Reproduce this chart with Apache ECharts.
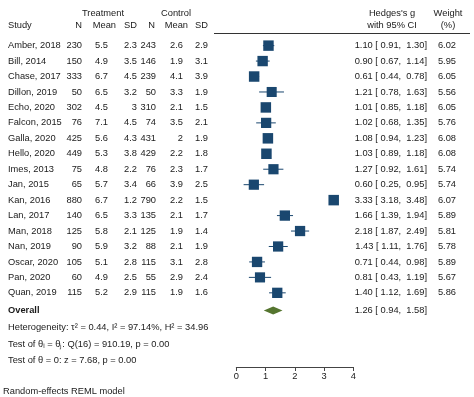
<!DOCTYPE html>
<html>
<head>
<meta charset="utf-8">
<script src="https://cdn.jsdelivr.net/npm/echarts@6/dist/echarts.min.js"></script>
<style>
  html, body { margin: 0; padding: 0; background: #fff; }
  #main { width: 474px; height: 397px; }
</style>
</head>
<body>
<div id="main"></div>
<script>
// study table
var studies = ['Amber, 2018', 'Bill, 2014', 'Chase, 2017', 'Dillon, 2019', 'Echo, 2020', 'Falcon, 2015',
  'Galla, 2020', 'Hello, 2020', 'Imes, 2013', 'Jan, 2015', 'Kan, 2016', 'Lan, 2017', 'Man, 2018',
  'Nan, 2019', 'Oscar, 2020', 'Pan, 2020', 'Quan, 2019'];
var trtN = [230, 150, 333, 50, 302, 76, 425, 449, 75, 65, 880, 140, 125, 90, 105, 60, 115];
var trtMean = [5.5, 4.9, 6.7, 6.5, 4.5, 7.1, 5.6, 5.3, 4.8, 5.7, 6.7, 6.5, 5.8, 5.9, 5.1, 4.9, 5.2];
var trtSD = [2.3, 3.5, 4.5, 3.2, 3, 4.5, 4.3, 3.8, 2.2, 3.4, 1.2, 3.3, 2.1, 3.2, 2.8, 2.5, 2.9];
var ctlN = [243, 146, 239, 50, 310, 74, 431, 429, 76, 66, 790, 135, 125, 88, 115, 55, 115];
var ctlMean = [2.6, 1.9, 4.1, 3.3, 2.1, 3.5, 2, 2.2, 2.3, 3.9, 2.2, 2.1, 1.9, 2.1, 3.1, 2.9, 1.9];
var ctlSD = [2.9, 3.1, 3.9, 1.9, 1.5, 2.1, 1.9, 1.8, 1.7, 2.5, 1.5, 1.7, 1.4, 1.9, 2.8, 2.4, 1.6];
// effect sizes
var hedgesG = [1.10, 0.90, 0.61, 1.21, 1.01, 1.02, 1.08, 1.03, 1.27, 0.60, 3.33, 1.66, 2.18, 1.43, 0.71, 0.81, 1.40];
var ciLow = [0.91, 0.67, 0.44, 0.78, 0.85, 0.68, 0.94, 0.89, 0.92, 0.25, 3.18, 1.39, 1.87, 1.11, 0.44, 0.43, 1.12];
var ciHigh = [1.30, 1.14, 0.78, 1.63, 1.18, 1.35, 1.23, 1.18, 1.61, 0.95, 3.48, 1.94, 2.49, 1.76, 0.98, 1.19, 1.69];
var weights = [6.02, 5.95, 6.05, 5.56, 6.05, 5.76, 6.08, 6.08, 5.74, 5.74, 6.07, 5.89, 5.81, 5.78, 5.89, 5.67, 5.86];
var overall = [1.26, 0.94, 1.58];
var xTicks = [0, 1, 2, 3, 4];

var FONT = '9.3px "Liberation Sans", Arial, sans-serif';
var TXT = '#1a1a1a';
var NAVY = '#1a476f';
var GREEN = '#55752f';
var overallRow = 17.15;

function ciText(g, l, h) {
  return g.toFixed(2) + ' [ ' + l.toFixed(2) + ',  ' + h.toFixed(2) + ']';
}

// table columns: x position in pixels (grid 1 spans the whole width)
var columns = [
  { x: 8, align: 'left', get: function (i) { return studies[i]; } },
  { x: 82, align: 'right', get: function (i) { return String(trtN[i]); } },
  { x: 108, align: 'right', get: function (i) { return String(trtMean[i]); } },
  { x: 137, align: 'right', get: function (i) { return String(trtSD[i]); } },
  { x: 156, align: 'right', get: function (i) { return String(ctlN[i]); } },
  { x: 183, align: 'right', get: function (i) { return String(ctlMean[i]); } },
  { x: 208, align: 'right', get: function (i) { return String(ctlSD[i]); } },
  { x: 427, align: 'right', get: function (i) { return ciText(hedgesG[i], ciLow[i], ciHigh[i]); } },
  { x: 456, align: 'right', get: function (i) { return weights[i].toFixed(2); } }
];

var rowData = studies.map(function (s, i) { return [0, i]; });
var forestData = studies.map(function (s, i) { return [hedgesG[i], i, ciLow[i], ciHigh[i], weights[i]]; });

var chart = echarts.init(document.getElementById('main'));

function txt(x, y, text, align, bold) {
  return {
    type: 'text', x: x, y: y, silent: true,
    style: {
      text: text, fill: TXT, align: align || 'left', verticalAlign: 'middle',
      font: (bold ? 'bold ' : '') + FONT
    }
  };
}

var option = {
  backgroundColor: '#fff',
  animation: false,
  grid: [
    { left: 236.3, right: 120.7, top: 37.9, bottom: 30 },
    { left: 0, right: 0, top: 37.9, bottom: 30 }
  ],
  xAxis: [
    {
      gridIndex: 0, type: 'value', min: 0, max: 4, interval: 1, position: 'bottom',
      axisLine: { onZero: false, lineStyle: { color: '#444', width: 1 } },
      axisTick: { length: 4, lineStyle: { color: '#444' } },
      axisLabel: {
        margin: 5, color: TXT, fontSize: 9.3, fontFamily: '"Liberation Sans", Arial, sans-serif',
        formatter: function (v) { return xTicks.indexOf(v) >= 0 ? String(v) : ''; }
      },
      splitLine: { show: false }
    },
    { gridIndex: 1, type: 'value', min: 0, max: 474, show: false }
  ],
  yAxis: [
    { gridIndex: 0, type: 'value', min: -0.5, max: 20.8, inverse: true, show: false },
    { gridIndex: 1, type: 'value', min: -0.5, max: 20.8, inverse: true, show: false }
  ],
  series: [
    {
      type: 'custom', xAxisIndex: 0, yAxisIndex: 0, clip: false,
      data: forestData,
      renderItem: function (params, api) {
        var c = api.coord([api.value(0), api.value(1)]);
        var l = api.coord([api.value(2), api.value(1)]);
        var h = api.coord([api.value(3), api.value(1)]);
        var side = 10.5 * Math.sqrt(api.value(4) / 6.08);
        return {
          type: 'group',
          children: [
            { type: 'line', shape: { x1: l[0], y1: c[1], x2: h[0], y2: c[1] }, style: { stroke: NAVY, lineWidth: 1 } },
            { type: 'rect', shape: { x: c[0] - side / 2, y: c[1] - side / 2, width: side, height: side }, style: { fill: NAVY } }
          ]
        };
      }
    },
    {
      type: 'custom', xAxisIndex: 0, yAxisIndex: 0, clip: false,
      data: [[overall[0], overallRow, overall[1], overall[2]]],
      renderItem: function (params, api) {
        var c = api.coord([api.value(0), api.value(1)]);
        var l = api.coord([api.value(2), api.value(1)]);
        var h = api.coord([api.value(3), api.value(1)]);
        return {
          type: 'polygon',
          shape: { points: [[l[0], c[1]], [c[0], c[1] - 4], [h[0], c[1]], [c[0], c[1] + 4]] },
          style: { fill: GREEN }
        };
      }
    },
    {
      type: 'custom', xAxisIndex: 1, yAxisIndex: 1, clip: false, silent: true,
      data: rowData,
      renderItem: function (params, api) {
        var i = params.dataIndex;
        var y = api.coord([0, api.value(1)])[1];
        return {
          type: 'group',
          children: columns.map(function (col) {
            return {
              type: 'text', x: col.x, y: y,
              style: { text: col.get(i), fill: TXT, align: col.align, verticalAlign: 'middle', font: FONT }
            };
          })
        };
      }
    },
    {
      type: 'custom', xAxisIndex: 1, yAxisIndex: 1, clip: false, silent: true,
      data: [[0, overallRow]],
      renderItem: function (params, api) {
        var y = api.coord([0, api.value(1)])[1];
        return {
          type: 'group',
          children: [
            { type: 'text', x: 8, y: y, style: { text: 'Overall', fill: TXT, align: 'left', verticalAlign: 'middle', font: 'bold ' + FONT } },
            { type: 'text', x: 427, y: y, style: { text: ciText(overall[0], overall[1], overall[2]), fill: TXT, align: 'right', verticalAlign: 'middle', font: FONT } }
          ]
        };
      }
    }
  ],
  graphic: [
    txt(103, 13, 'Treatment', 'center'),
    txt(176, 13, 'Control', 'center'),
    txt(8, 25, 'Study', 'left'),
    txt(82, 25, 'N', 'right'),
    txt(116, 25, 'Mean', 'right'),
    txt(137, 25, 'SD', 'right'),
    txt(155, 25, 'N', 'right'),
    txt(188, 25, 'Mean', 'right'),
    txt(208, 25, 'SD', 'right'),
    txt(392, 13, "Hedges's g", 'center'),
    txt(392, 25, 'with 95% CI', 'center'),
    txt(448, 13, 'Weight', 'center'),
    txt(448, 25, '(%)', 'center'),
    {
      type: 'line', silent: true,
      shape: { x1: 214, y1: 33.5, x2: 470, y2: 33.5 },
      style: { stroke: '#333', lineWidth: 1 }
    },
    txt(8, 327, 'Heterogeneity: \u03c4\u00b2 = 0.44, I\u00b2 = 97.14%, H\u00b2 = 34.96', 'left'),
    txt(8, 344, 'Test of \u03b8\u1d62 = \u03b8\u2c7c: Q(16) = 910.19, p = 0.00', 'left'),
    txt(8, 360, 'Test of \u03b8 = 0: z = 7.68, p = 0.00', 'left'),
    txt(3, 391, 'Random-effects REML model', 'left')
  ]
};

chart.setOption(option);
</script>
</body>
</html>
